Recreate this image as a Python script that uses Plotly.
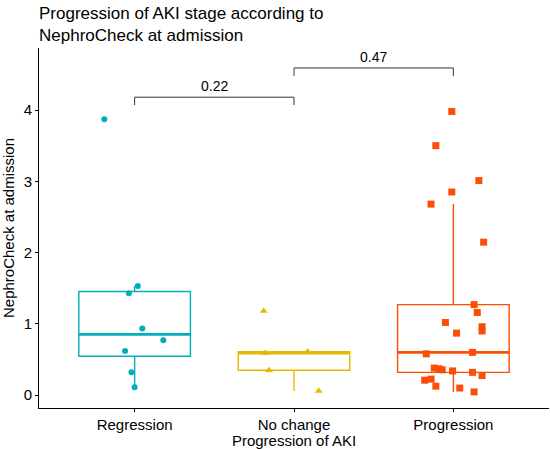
import numpy as np
import plotly.graph_objs as go

# categorias del eje x
categorias = ['Regression', 'No change', 'Progression']
colores = ['#00AFBB', '#E7B800', '#FC4E07']
simbolos = ['circle', 'triangle-up', 'square']

# valores de NephroCheck por grupo
regression = [3.87, 1.53, 1.43, 0.935, 0.77, 0.62, 0.32, 0.11]
no_change = [1.18, 0.59, 0.61, 0.35, 0.06]
progression = [3.98, 3.50, 3.01, 2.85, 2.68, 2.146, 1.27, 1.16, 1.02, 0.96, 0.90, 0.87,
               0.58, 0.60, 0.38, 0.37, 0.355, 0.34, 0.32, 0.275, 0.21, 0.225, 0.126, 0.10, 0.046]

# desplazamiento horizontal (jitter) de cada punto
jitter_regression = [-0.19, 0.02, -0.036, 0.048, 0.18, -0.06, -0.02, 0.0]
jitter_no_change = [-0.19, -0.18, 0.086, -0.157, 0.155]
jitter_progression = [-0.01, -0.11, 0.16, -0.01, -0.14, 0.19, 0.13, 0.15, -0.05, 0.18, 0.18, 0.02,
                      -0.17, 0.12, -0.12, -0.09, -0.07, -0.005, 0.12, 0.18, -0.18, -0.14, -0.11, 0.04, 0.13]

# p-valores de las comparaciones
comparaciones = [(0, 1), (1, 2)]
p_valores = ['0.22', '0.47']

grupos = [regression, no_change, progression]
jitters = [jitter_regression, jitter_no_change, jitter_progression]

fuente = 'Liberation Sans, Arial, sans-serif'
ancho = 0.70


# estadisticos tipo ggplot (cuantiles tipo 7 y bigotes a 1.5*IQR)
def stats_box(vals):
    v = np.array(vals)
    q1, med, q3 = np.percentile(v, [25, 50, 75])
    iqr = q3 - q1
    lo = v[v >= q1 - 1.5 * iqr].min()
    hi = v[v <= q3 + 1.5 * iqr].max()
    return q1, med, q3, lo, hi


fig = go.Figure()

for i, (vals, col) in enumerate(zip(grupos, colores)):
    q1, med, q3, lo, hi = stats_box(vals)
    fig.add_trace(go.Box(
        x=[i], q1=[q1], median=[med], q3=[q3], lowerfence=[lo], upperfence=[hi],
        width=ancho, whiskerwidth=0,
        fillcolor='rgba(0,0,0,0)', line=dict(color=col, width=1.4),
        showlegend=False, hoverinfo='skip'))
    # mediana mas gruesa, como en ggplot
    fig.add_trace(go.Scatter(
        x=[i - ancho / 2, i + ancho / 2], y=[med, med], mode='lines',
        line=dict(color=col, width=2.6), showlegend=False, hoverinfo='skip'))

for i, (vals, jit, col, sym) in enumerate(zip(grupos, jitters, colores, simbolos)):
    fig.add_trace(go.Scatter(
        x=[i + j for j in jit], y=vals, mode='markers',
        marker=dict(color=col, symbol=sym, size=7 if sym != 'circle' else 6, line=dict(width=0)),
        showlegend=False))

# corchetes de comparacion
alturas = [4.18, 4.59]
for (a, b), p, h in zip(comparaciones, p_valores, alturas):
    fig.add_trace(go.Scatter(
        x=[a, a, b, b], y=[h - 0.11, h, h, h - 0.11], mode='lines',
        line=dict(color='#333333', width=1), showlegend=False, hoverinfo='skip'))
    fig.add_annotation(x=(a + b) / 2, y=h, text=p, showarrow=False,
                       yanchor='bottom', yshift=1,
                       font=dict(family=fuente, size=14, color='black'))

# titulo en dos lineas como anotacion (el titulo de plotly se corta arriba)
fig.add_annotation(xref='paper', yref='paper', x=-0.004, y=1.128,
                   xanchor='left', yanchor='top', align='left', showarrow=False,
                   text='Progression of AKI stage according to<br>NephroCheck at admission',
                   font=dict(family=fuente, size=17, color='black'))

fig.update_layout(
    width=550, height=449,
    margin=dict(l=39, r=1, t=48, b=41),
    plot_bgcolor='white', paper_bgcolor='white',
    boxmode='overlay',
    font=dict(family=fuente, color='black'),
    xaxis=dict(range=[-0.6, 2.6], tickvals=[0, 1, 2], ticktext=categorias,
               showline=True, linecolor='black', linewidth=1,
               ticks='outside', ticklen=3, tickcolor='black', showgrid=False, zeroline=False,
               tickfont=dict(size=15, color='black'),
               title=dict(text='Progression of AKI', standoff=4, font=dict(size=15, color='black')),
               automargin=False),
    yaxis=dict(range=[-0.18, 4.87], tickvals=[0, 1, 2, 3, 4],
               showline=True, linecolor='black', linewidth=1,
               ticks='outside', ticklen=3, tickcolor='black', showgrid=False, zeroline=False,
               tickfont=dict(size=15, color='black'),
               title=dict(text='NephroCheck at admission', standoff=6, font=dict(size=15, color='black')),
               automargin=False),
)

# quitar el margen del body para que la figura ocupe la ventana
fig.write_html('out.html', config={'displayModeBar': False},
               post_script="document.body.style.margin='0';")
